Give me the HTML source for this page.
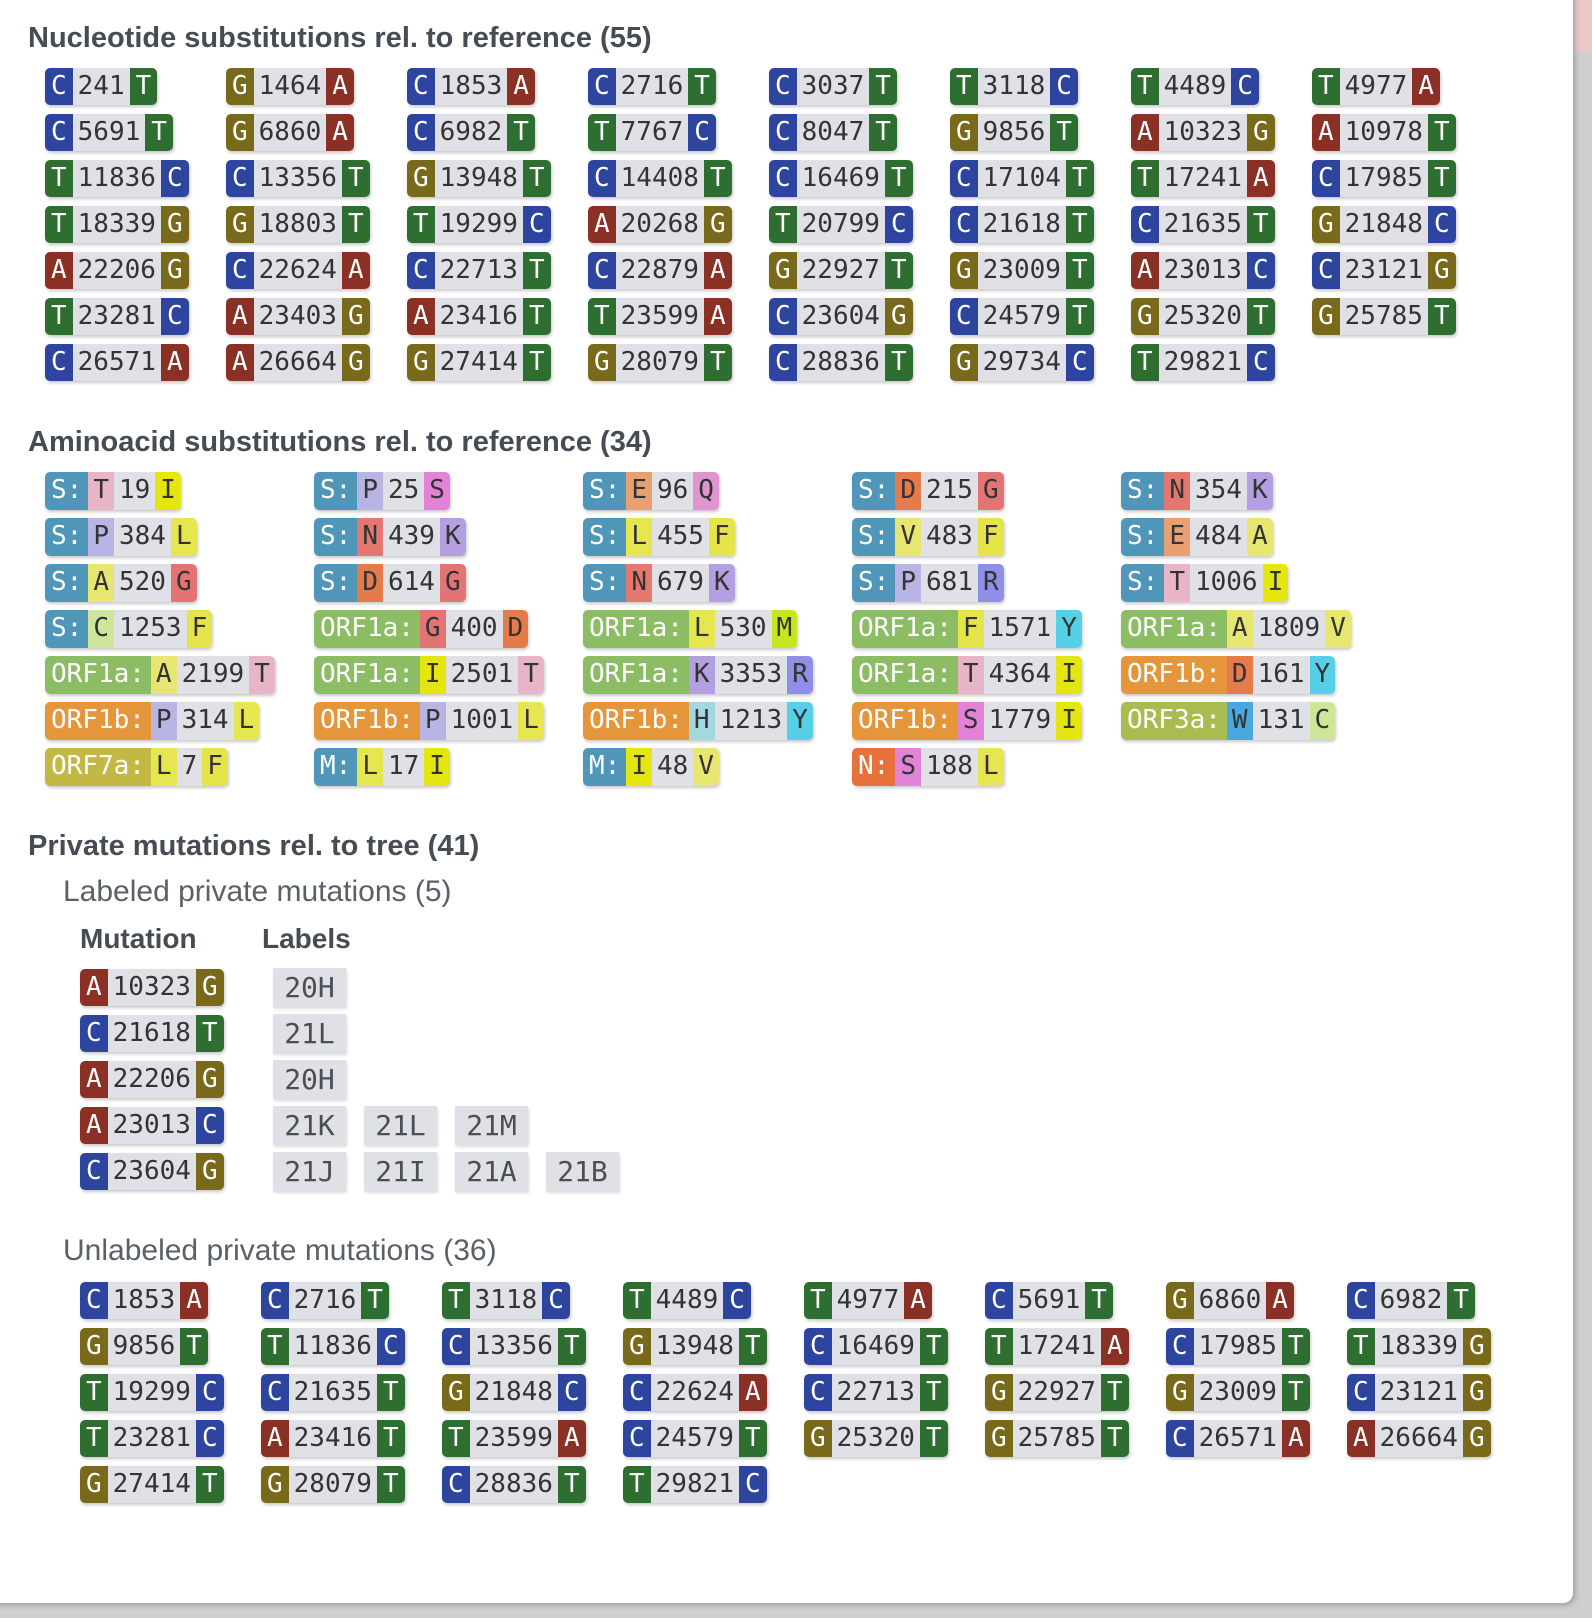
<!DOCTYPE html>
<html><head><meta charset="utf-8"><style>
body{margin:0;width:1592px;height:1618px;background:#cfcfcf;position:relative;overflow:hidden;font-family:"Liberation Sans",sans-serif}
.pink{position:absolute;left:1560px;top:0;width:40px;height:52px;background:#ecc9c9}
.panel{position:absolute;left:-10px;top:-10px;width:1583px;height:1613px;background:#fff;border-radius:0 10px 10px 0;box-shadow:2px 2px 6px rgba(0,0,0,.25)}
.h{position:absolute;margin:0;font-weight:bold;font-size:29px;color:#464c54;white-space:nowrap;line-height:1}
.s{position:absolute;font-size:30px;color:#5a6068;white-space:nowrap;line-height:1}
.g{position:absolute;display:grid;grid-auto-rows:46px}
.m{display:inline-flex;height:37px;line-height:37px;border-radius:5px;overflow:hidden;box-shadow:1px 2px 3px rgba(0,0,0,.22);font-family:"DejaVu Sans Mono","Liberation Mono",monospace;font-size:26px;justify-self:start;align-self:start}
.m span{padding:0 5px;background:#dfe1e6;color:#333}
.m b{font-weight:normal;padding:0 6px;color:#fff}
.A{background:#8a3024}.C{background:#2e45a0}.G{background:#786a1a}.T{background:#2e6e30}
.m i{font-style:normal;padding:0 5px;color:#333}
.m u{text-decoration:none;padding:0 6px;color:#fff}
.gS,.gM{background:#5096b9}.g1a{background:#8cbc64}.g1b{background:#e5963a}.g3a{background:#a8bc50}.g7a{background:#c4b844}.gN{background:#e8703a}
.aA{background:#e6e670}.aC{background:#cfe59a}.aD{background:#e57b4b}.aE{background:#e9a070}.aF{background:#e5e54a}.aG{background:#e47374}.aH{background:#a4d8e0}.aI{background:#e5e510}.aK{background:#b4a0e0}.aL{background:#e6e650}.aM{background:#c8e620}.aN{background:#e47870}.aP{background:#b8b4e4}.aQ{background:#e095d0}.aR{background:#8f8fe8}.aS{background:#e283d8}.aT{background:#e8b4c8}.aV{background:#e6e670}.aW{background:#4aa8e0}.aY{background:#55d0e6}
.lab{position:absolute;width:73px;height:39px;line-height:39px;background:#dfe1e6;box-shadow:1px 2px 3px rgba(0,0,0,.15);text-align:center;font-family:"DejaVu Sans Mono",monospace;font-size:28px;color:#4a4f55}
</style></head><body>
<div class="pink"></div>
<div class="panel"></div>

<div class="h" style="left:28px;top:24px">Nucleotide substitutions rel. to reference (55)</div>
<div class="g" style="left:45px;top:68px;grid-template-columns:repeat(8,181px)">
<div class="m"><b class="C">C</b><span>241</span><b class="T">T</b></div>
<div class="m"><b class="G">G</b><span>1464</span><b class="A">A</b></div>
<div class="m"><b class="C">C</b><span>1853</span><b class="A">A</b></div>
<div class="m"><b class="C">C</b><span>2716</span><b class="T">T</b></div>
<div class="m"><b class="C">C</b><span>3037</span><b class="T">T</b></div>
<div class="m"><b class="T">T</b><span>3118</span><b class="C">C</b></div>
<div class="m"><b class="T">T</b><span>4489</span><b class="C">C</b></div>
<div class="m"><b class="T">T</b><span>4977</span><b class="A">A</b></div>
<div class="m"><b class="C">C</b><span>5691</span><b class="T">T</b></div>
<div class="m"><b class="G">G</b><span>6860</span><b class="A">A</b></div>
<div class="m"><b class="C">C</b><span>6982</span><b class="T">T</b></div>
<div class="m"><b class="T">T</b><span>7767</span><b class="C">C</b></div>
<div class="m"><b class="C">C</b><span>8047</span><b class="T">T</b></div>
<div class="m"><b class="G">G</b><span>9856</span><b class="T">T</b></div>
<div class="m"><b class="A">A</b><span>10323</span><b class="G">G</b></div>
<div class="m"><b class="A">A</b><span>10978</span><b class="T">T</b></div>
<div class="m"><b class="T">T</b><span>11836</span><b class="C">C</b></div>
<div class="m"><b class="C">C</b><span>13356</span><b class="T">T</b></div>
<div class="m"><b class="G">G</b><span>13948</span><b class="T">T</b></div>
<div class="m"><b class="C">C</b><span>14408</span><b class="T">T</b></div>
<div class="m"><b class="C">C</b><span>16469</span><b class="T">T</b></div>
<div class="m"><b class="C">C</b><span>17104</span><b class="T">T</b></div>
<div class="m"><b class="T">T</b><span>17241</span><b class="A">A</b></div>
<div class="m"><b class="C">C</b><span>17985</span><b class="T">T</b></div>
<div class="m"><b class="T">T</b><span>18339</span><b class="G">G</b></div>
<div class="m"><b class="G">G</b><span>18803</span><b class="T">T</b></div>
<div class="m"><b class="T">T</b><span>19299</span><b class="C">C</b></div>
<div class="m"><b class="A">A</b><span>20268</span><b class="G">G</b></div>
<div class="m"><b class="T">T</b><span>20799</span><b class="C">C</b></div>
<div class="m"><b class="C">C</b><span>21618</span><b class="T">T</b></div>
<div class="m"><b class="C">C</b><span>21635</span><b class="T">T</b></div>
<div class="m"><b class="G">G</b><span>21848</span><b class="C">C</b></div>
<div class="m"><b class="A">A</b><span>22206</span><b class="G">G</b></div>
<div class="m"><b class="C">C</b><span>22624</span><b class="A">A</b></div>
<div class="m"><b class="C">C</b><span>22713</span><b class="T">T</b></div>
<div class="m"><b class="C">C</b><span>22879</span><b class="A">A</b></div>
<div class="m"><b class="G">G</b><span>22927</span><b class="T">T</b></div>
<div class="m"><b class="G">G</b><span>23009</span><b class="T">T</b></div>
<div class="m"><b class="A">A</b><span>23013</span><b class="C">C</b></div>
<div class="m"><b class="C">C</b><span>23121</span><b class="G">G</b></div>
<div class="m"><b class="T">T</b><span>23281</span><b class="C">C</b></div>
<div class="m"><b class="A">A</b><span>23403</span><b class="G">G</b></div>
<div class="m"><b class="A">A</b><span>23416</span><b class="T">T</b></div>
<div class="m"><b class="T">T</b><span>23599</span><b class="A">A</b></div>
<div class="m"><b class="C">C</b><span>23604</span><b class="G">G</b></div>
<div class="m"><b class="C">C</b><span>24579</span><b class="T">T</b></div>
<div class="m"><b class="G">G</b><span>25320</span><b class="T">T</b></div>
<div class="m"><b class="G">G</b><span>25785</span><b class="T">T</b></div>
<div class="m"><b class="C">C</b><span>26571</span><b class="A">A</b></div>
<div class="m"><b class="A">A</b><span>26664</span><b class="G">G</b></div>
<div class="m"><b class="G">G</b><span>27414</span><b class="T">T</b></div>
<div class="m"><b class="G">G</b><span>28079</span><b class="T">T</b></div>
<div class="m"><b class="C">C</b><span>28836</span><b class="T">T</b></div>
<div class="m"><b class="G">G</b><span>29734</span><b class="C">C</b></div>
<div class="m"><b class="T">T</b><span>29821</span><b class="C">C</b></div>
</div>

<div class="h" style="left:28px;top:428px">Aminoacid substitutions rel. to reference (34)</div>
<div class="g" style="left:45px;top:472px;grid-template-columns:repeat(5,269px)">
<div class="m" style="height:38px"><u class="gS">S:</u><i class="aT">T</i><span>19</span><i class="aI">I</i></div>
<div class="m" style="height:38px"><u class="gS">S:</u><i class="aP">P</i><span>25</span><i class="aS">S</i></div>
<div class="m" style="height:38px"><u class="gS">S:</u><i class="aE">E</i><span>96</span><i class="aQ">Q</i></div>
<div class="m" style="height:38px"><u class="gS">S:</u><i class="aD">D</i><span>215</span><i class="aG">G</i></div>
<div class="m" style="height:38px"><u class="gS">S:</u><i class="aN">N</i><span>354</span><i class="aK">K</i></div>
<div class="m" style="height:38px"><u class="gS">S:</u><i class="aP">P</i><span>384</span><i class="aL">L</i></div>
<div class="m" style="height:38px"><u class="gS">S:</u><i class="aN">N</i><span>439</span><i class="aK">K</i></div>
<div class="m" style="height:38px"><u class="gS">S:</u><i class="aL">L</i><span>455</span><i class="aF">F</i></div>
<div class="m" style="height:38px"><u class="gS">S:</u><i class="aV">V</i><span>483</span><i class="aF">F</i></div>
<div class="m" style="height:38px"><u class="gS">S:</u><i class="aE">E</i><span>484</span><i class="aA">A</i></div>
<div class="m" style="height:38px"><u class="gS">S:</u><i class="aA">A</i><span>520</span><i class="aG">G</i></div>
<div class="m" style="height:38px"><u class="gS">S:</u><i class="aD">D</i><span>614</span><i class="aG">G</i></div>
<div class="m" style="height:38px"><u class="gS">S:</u><i class="aN">N</i><span>679</span><i class="aK">K</i></div>
<div class="m" style="height:38px"><u class="gS">S:</u><i class="aP">P</i><span>681</span><i class="aR">R</i></div>
<div class="m" style="height:38px"><u class="gS">S:</u><i class="aT">T</i><span>1006</span><i class="aI">I</i></div>
<div class="m" style="height:38px"><u class="gS">S:</u><i class="aC">C</i><span>1253</span><i class="aF">F</i></div>
<div class="m" style="height:38px"><u class="g1a">ORF1a:</u><i class="aG">G</i><span>400</span><i class="aD">D</i></div>
<div class="m" style="height:38px"><u class="g1a">ORF1a:</u><i class="aL">L</i><span>530</span><i class="aM">M</i></div>
<div class="m" style="height:38px"><u class="g1a">ORF1a:</u><i class="aF">F</i><span>1571</span><i class="aY">Y</i></div>
<div class="m" style="height:38px"><u class="g1a">ORF1a:</u><i class="aA">A</i><span>1809</span><i class="aV">V</i></div>
<div class="m" style="height:38px"><u class="g1a">ORF1a:</u><i class="aA">A</i><span>2199</span><i class="aT">T</i></div>
<div class="m" style="height:38px"><u class="g1a">ORF1a:</u><i class="aI">I</i><span>2501</span><i class="aT">T</i></div>
<div class="m" style="height:38px"><u class="g1a">ORF1a:</u><i class="aK">K</i><span>3353</span><i class="aR">R</i></div>
<div class="m" style="height:38px"><u class="g1a">ORF1a:</u><i class="aT">T</i><span>4364</span><i class="aI">I</i></div>
<div class="m" style="height:38px"><u class="g1b">ORF1b:</u><i class="aD">D</i><span>161</span><i class="aY">Y</i></div>
<div class="m" style="height:38px"><u class="g1b">ORF1b:</u><i class="aP">P</i><span>314</span><i class="aL">L</i></div>
<div class="m" style="height:38px"><u class="g1b">ORF1b:</u><i class="aP">P</i><span>1001</span><i class="aL">L</i></div>
<div class="m" style="height:38px"><u class="g1b">ORF1b:</u><i class="aH">H</i><span>1213</span><i class="aY">Y</i></div>
<div class="m" style="height:38px"><u class="g1b">ORF1b:</u><i class="aS">S</i><span>1779</span><i class="aI">I</i></div>
<div class="m" style="height:38px"><u class="g3a">ORF3a:</u><i class="aW">W</i><span>131</span><i class="aC">C</i></div>
<div class="m" style="height:38px"><u class="g7a">ORF7a:</u><i class="aL">L</i><span>7</span><i class="aF">F</i></div>
<div class="m" style="height:38px"><u class="gM">M:</u><i class="aL">L</i><span>17</span><i class="aI">I</i></div>
<div class="m" style="height:38px"><u class="gM">M:</u><i class="aI">I</i><span>48</span><i class="aV">V</i></div>
<div class="m" style="height:38px"><u class="gN">N:</u><i class="aS">S</i><span>188</span><i class="aL">L</i></div>
</div>

<div class="h" style="left:28px;top:832px">Private mutations rel. to tree (41)</div>
<div class="s" style="left:63px;top:877px">Labeled private mutations (5)</div>
<div class="h" style="left:80px;top:925px;font-size:28px">Mutation</div>
<div class="h" style="left:262px;top:925px;font-size:28px">Labels</div>
<div class="g" style="left:80px;top:969px;grid-template-columns:180px">
<div class="m"><b class="A">A</b><span>10323</span><b class="G">G</b></div>
<div class="m"><b class="C">C</b><span>21618</span><b class="T">T</b></div>
<div class="m"><b class="A">A</b><span>22206</span><b class="G">G</b></div>
<div class="m"><b class="A">A</b><span>23013</span><b class="C">C</b></div>
<div class="m"><b class="C">C</b><span>23604</span><b class="G">G</b></div>
</div>
<div class="lab" style="left:273px;top:968px">20H</div>
<div class="lab" style="left:273px;top:1014px">21L</div>
<div class="lab" style="left:273px;top:1060px">20H</div>
<div class="lab" style="left:273px;top:1106px">21K</div>
<div class="lab" style="left:364px;top:1106px">21L</div>
<div class="lab" style="left:455px;top:1106px">21M</div>
<div class="lab" style="left:273px;top:1152px">21J</div>
<div class="lab" style="left:364px;top:1152px">21I</div>
<div class="lab" style="left:455px;top:1152px">21A</div>
<div class="lab" style="left:546px;top:1152px">21B</div>

<div class="s" style="left:63px;top:1236px">Unlabeled private mutations (36)</div>
<div class="g" style="left:80px;top:1282px;grid-template-columns:repeat(8,181px)">
<div class="m"><b class="C">C</b><span>1853</span><b class="A">A</b></div>
<div class="m"><b class="C">C</b><span>2716</span><b class="T">T</b></div>
<div class="m"><b class="T">T</b><span>3118</span><b class="C">C</b></div>
<div class="m"><b class="T">T</b><span>4489</span><b class="C">C</b></div>
<div class="m"><b class="T">T</b><span>4977</span><b class="A">A</b></div>
<div class="m"><b class="C">C</b><span>5691</span><b class="T">T</b></div>
<div class="m"><b class="G">G</b><span>6860</span><b class="A">A</b></div>
<div class="m"><b class="C">C</b><span>6982</span><b class="T">T</b></div>
<div class="m"><b class="G">G</b><span>9856</span><b class="T">T</b></div>
<div class="m"><b class="T">T</b><span>11836</span><b class="C">C</b></div>
<div class="m"><b class="C">C</b><span>13356</span><b class="T">T</b></div>
<div class="m"><b class="G">G</b><span>13948</span><b class="T">T</b></div>
<div class="m"><b class="C">C</b><span>16469</span><b class="T">T</b></div>
<div class="m"><b class="T">T</b><span>17241</span><b class="A">A</b></div>
<div class="m"><b class="C">C</b><span>17985</span><b class="T">T</b></div>
<div class="m"><b class="T">T</b><span>18339</span><b class="G">G</b></div>
<div class="m"><b class="T">T</b><span>19299</span><b class="C">C</b></div>
<div class="m"><b class="C">C</b><span>21635</span><b class="T">T</b></div>
<div class="m"><b class="G">G</b><span>21848</span><b class="C">C</b></div>
<div class="m"><b class="C">C</b><span>22624</span><b class="A">A</b></div>
<div class="m"><b class="C">C</b><span>22713</span><b class="T">T</b></div>
<div class="m"><b class="G">G</b><span>22927</span><b class="T">T</b></div>
<div class="m"><b class="G">G</b><span>23009</span><b class="T">T</b></div>
<div class="m"><b class="C">C</b><span>23121</span><b class="G">G</b></div>
<div class="m"><b class="T">T</b><span>23281</span><b class="C">C</b></div>
<div class="m"><b class="A">A</b><span>23416</span><b class="T">T</b></div>
<div class="m"><b class="T">T</b><span>23599</span><b class="A">A</b></div>
<div class="m"><b class="C">C</b><span>24579</span><b class="T">T</b></div>
<div class="m"><b class="G">G</b><span>25320</span><b class="T">T</b></div>
<div class="m"><b class="G">G</b><span>25785</span><b class="T">T</b></div>
<div class="m"><b class="C">C</b><span>26571</span><b class="A">A</b></div>
<div class="m"><b class="A">A</b><span>26664</span><b class="G">G</b></div>
<div class="m"><b class="G">G</b><span>27414</span><b class="T">T</b></div>
<div class="m"><b class="G">G</b><span>28079</span><b class="T">T</b></div>
<div class="m"><b class="C">C</b><span>28836</span><b class="T">T</b></div>
<div class="m"><b class="T">T</b><span>29821</span><b class="C">C</b></div>
</div>
</body></html>
